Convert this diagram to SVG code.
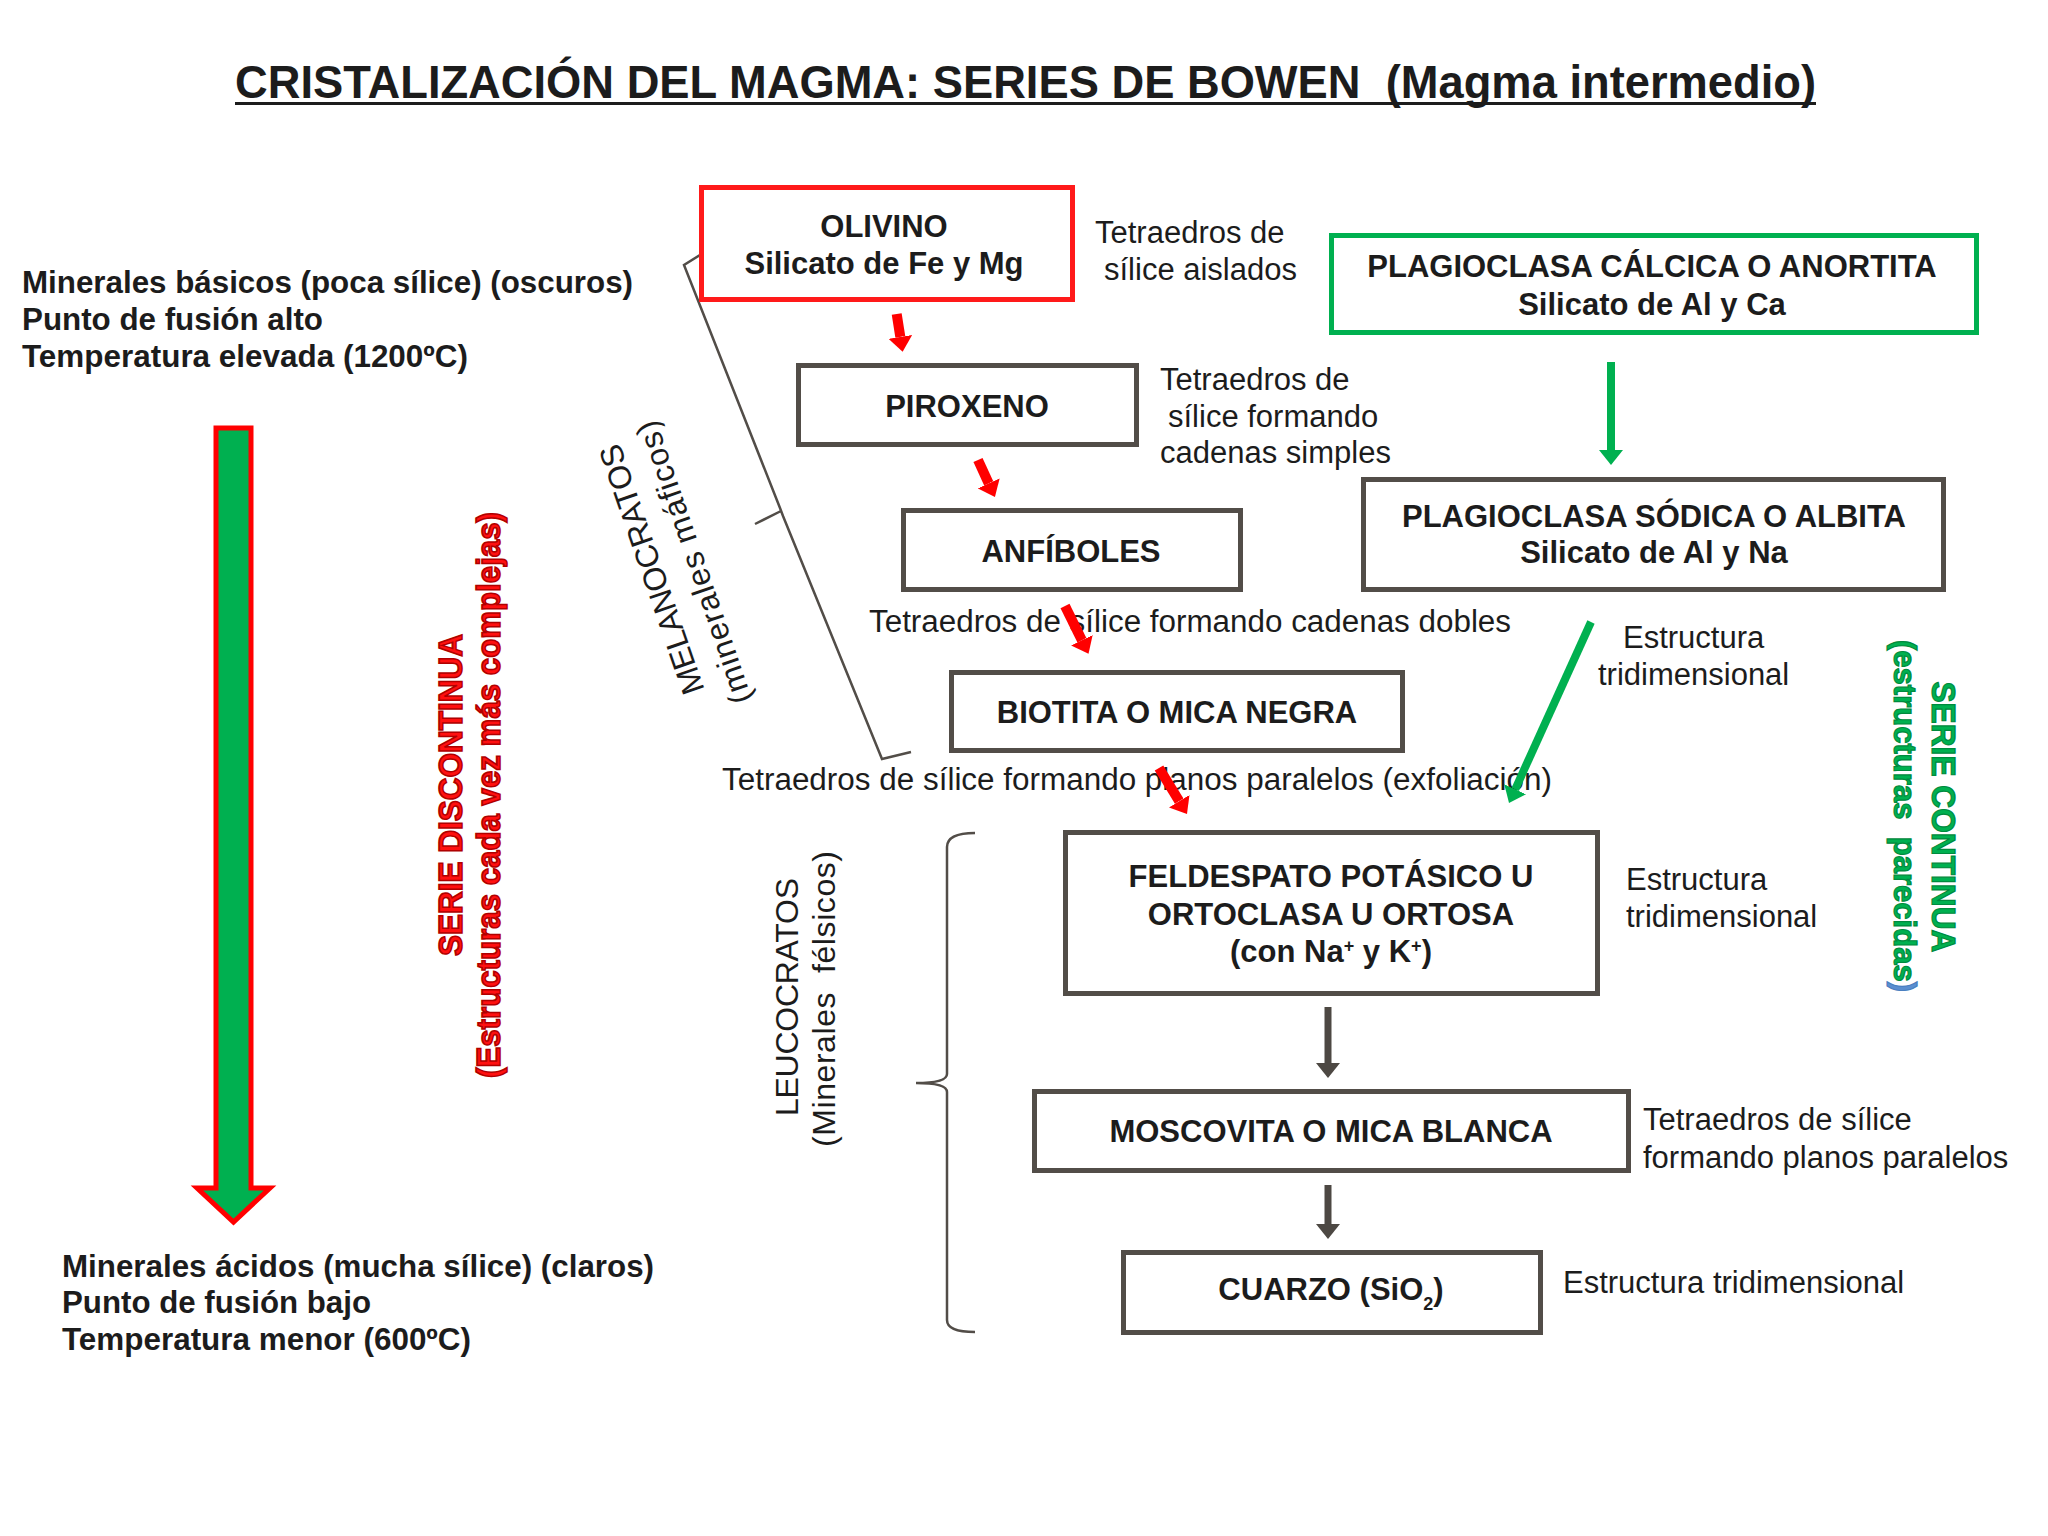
<svg xmlns="http://www.w3.org/2000/svg" width="2048" height="1536" viewBox="0 0 2048 1536">
  <style>
    .t { font-family: "Liberation Sans", Arial, sans-serif; fill: #1c1c1c; }
    .b { font-weight: bold; font-size: 31px; }
    .r { font-weight: normal; font-size: 31px; }
    .m { text-anchor: middle; }
    .box { fill: #ffffff; stroke: #524d48; stroke-width: 5; }
    .red { fill: #ff1010; stroke: #b00000; stroke-width: 1.6; font-weight: bold; font-family: "Liberation Sans", Arial, sans-serif; text-anchor: middle; }
    .grn { fill: #00b050; stroke: #008a3d; stroke-width: 1.2; font-weight: bold; font-family: "Liberation Sans", Arial, sans-serif; text-anchor: middle; }
    .brace { fill: none; stroke: #524d48; stroke-width: 2.5; stroke-linejoin: miter; }
  </style>
  <defs>
    <marker id="mRed" markerUnits="userSpaceOnUse" markerWidth="15" markerHeight="24" refX="0" refY="12" orient="auto">
      <path d="M0,0 L15,12 L0,24 z" fill="#ff0000"/>
    </marker>
    <marker id="mGreen" markerUnits="userSpaceOnUse" markerWidth="15" markerHeight="24" refX="0" refY="12" orient="auto">
      <path d="M0,0 L15,12 L0,24 z" fill="#00b050"/>
    </marker>
    <marker id="mGray" markerUnits="userSpaceOnUse" markerWidth="15" markerHeight="24" refX="0" refY="12" orient="auto">
      <path d="M0,0 L15,12 L0,24 z" fill="#4d4843"/>
    </marker>
  </defs>
  <rect x="0" y="0" width="2048" height="1536" fill="#ffffff"/>

  <!-- Title -->
  <g id="title">
    <text class="t" x="235" y="98" font-size="46" font-weight="bold" textLength="1581" lengthAdjust="spacingAndGlyphs">CRISTALIZACIÓN DEL MAGMA: SERIES DE BOWEN&#160; (Magma intermedio)</text>
    <line x1="235" y1="103.5" x2="1816" y2="103.5" stroke="#1c1c1c" stroke-width="3"/>
  </g>

  <!-- Left notes -->
  <g id="note-top">
    <text class="t b" x="22" y="293" textLength="611" lengthAdjust="spacingAndGlyphs">Minerales básicos (poca sílice) (oscuros)</text>
    <text class="t b" x="22" y="330" textLength="301" lengthAdjust="spacingAndGlyphs">Punto de fusión alto</text>
    <text class="t b" x="22" y="367" textLength="446" lengthAdjust="spacingAndGlyphs">Temperatura elevada (1200ºC)</text>
  </g>
  <g id="note-bottom">
    <text class="t b" x="62" y="1277" textLength="592" lengthAdjust="spacingAndGlyphs">Minerales ácidos (mucha sílice) (claros)</text>
    <text class="t b" x="62" y="1313" textLength="309" lengthAdjust="spacingAndGlyphs">Punto de fusión bajo</text>
    <text class="t b" x="62" y="1350" textLength="409" lengthAdjust="spacingAndGlyphs">Temperatura menor (600ºC)</text>
  </g>

  <!-- Big temperature arrow -->
  <g id="big-arrow">
    <polygon points="216,428 251,428 251,1188 270,1188 233.5,1222 197,1188 216,1188" fill="#00b050" stroke="#ff0000" stroke-width="5" stroke-linejoin="miter"/>
  </g>

  <!-- Serie discontinua label -->
  <g id="serie-discontinua">
    <text class="red" transform="translate(462,795) rotate(-90)" font-size="34" textLength="322" lengthAdjust="spacingAndGlyphs">SERIE DISCONTINUA</text>
    <text class="red" transform="translate(500,795) rotate(-90)" font-size="33" textLength="566" lengthAdjust="spacingAndGlyphs">(Estructuras cada vez más complejas)</text>
  </g>

  <!-- Melanocratos label -->
  <g id="melanocratos">
    <text class="t m" font-size="32" transform="translate(662,566) rotate(-109)" textLength="262" lengthAdjust="spacing">MELANOCRATOS</text>
    <text class="t m" font-size="32" transform="translate(704,559) rotate(-109)" textLength="297" lengthAdjust="spacing">(minerales máficos)</text>
  </g>

  <!-- Leucocratos label -->
  <g id="leucocratos">
    <text class="t m" font-size="32" transform="translate(798,997) rotate(-90)" textLength="238" lengthAdjust="spacing">LEUCOCRATOS</text>
    <text class="t m" font-size="32" transform="translate(835,999) rotate(-90)" textLength="296" lengthAdjust="spacing">(Minerales&#160; félsicos)</text>
  </g>

  <!-- Serie continua label -->
  <g id="serie-continua">
    <text class="grn" transform="translate(1932,817) rotate(90)" font-size="34" textLength="271" lengthAdjust="spacingAndGlyphs">SERIE CONTINUA</text>
    <text class="grn" transform="translate(1894,816) rotate(90)" font-size="32" textLength="352" lengthAdjust="spacingAndGlyphs">(estructuras&#160; parecidas<tspan fill="#5b8fd0" stroke="#4a7fc0">)</tspan></text>
  </g>

  <!-- Braces -->
  <g id="braces">
    <path class="brace" d="M708,250 L684,265 L780,508 L783,516 L882,759 L911,752 M781,511 L755,524"/>
    <path class="brace" d="M975,833 Q947,833 947,847 L947,1074 Q947,1083 916,1083 Q947,1083 947,1092 L947,1320 Q947,1332 975,1332"/>
  </g>

  <!-- Nodes -->
  <g id="olivino">
    <rect x="701.5" y="187.5" width="371" height="112" fill="#ffffff" stroke="#ff1a1a" stroke-width="5"/>
    <text class="t b m" x="884" y="237">OLIVINO</text>
    <text class="t b m" x="884" y="274">Silicato de Fe y Mg</text>
  </g>
  <g id="piroxeno">
    <rect class="box" x="798.5" y="365.5" width="338" height="79"/>
    <text class="t b m" x="967" y="417">PIROXENO</text>
  </g>
  <g id="anfiboles">
    <rect class="box" x="903.5" y="510.5" width="337" height="79"/>
    <text class="t b m" x="1071" y="562">ANFÍBOLES</text>
  </g>
  <g id="biotita">
    <rect class="box" x="951.5" y="672.5" width="451" height="78"/>
    <text class="t b m" x="1177" y="723">BIOTITA O MICA NEGRA</text>
  </g>
  <g id="anortita">
    <rect x="1331.5" y="235.5" width="645" height="97" fill="#ffffff" stroke="#00b050" stroke-width="5"/>
    <text class="t b m" x="1652" y="277">PLAGIOCLASA CÁLCICA O ANORTITA</text>
    <text class="t b m" x="1652" y="315">Silicato de Al y Ca</text>
  </g>
  <g id="albita">
    <rect class="box" x="1363.5" y="479.5" width="580" height="110"/>
    <text class="t b m" x="1654" y="527">PLAGIOCLASA SÓDICA O ALBITA</text>
    <text class="t b m" x="1654" y="563">Silicato de Al y Na</text>
  </g>
  <g id="feldespato">
    <rect class="box" x="1065.5" y="832.5" width="532" height="161"/>
    <text class="t b m" x="1331" y="887">FELDESPATO POTÁSICO U</text>
    <text class="t b m" x="1331" y="925">ORTOCLASA U ORTOSA</text>
    <text class="t b m" x="1331" y="962">(con Na<tspan baseline-shift="super" font-size="18">+</tspan> y K<tspan baseline-shift="super" font-size="18">+</tspan>)</text>
  </g>
  <g id="moscovita">
    <rect class="box" x="1034.5" y="1091.5" width="594" height="79"/>
    <text class="t b m" x="1331" y="1142">MOSCOVITA O MICA BLANCA</text>
  </g>
  <g id="cuarzo">
    <rect class="box" x="1123.5" y="1252.5" width="417" height="80"/>
    <text class="t b m" x="1331" y="1300">CUARZO (SiO<tspan baseline-shift="sub" font-size="18">2</tspan>)</text>
  </g>

  <!-- Structure labels -->
  <g id="labels">
    <text class="t r" x="1095" y="243">Tetraedros de</text>
    <text class="t r" x="1104" y="280">sílice aislados</text>
    <text class="t r" x="1160" y="390">Tetraedros de</text>
    <text class="t r" x="1168" y="427">sílice formando</text>
    <text class="t r" x="1160" y="463">cadenas simples</text>
    <text class="t r" x="869" y="632" textLength="642" lengthAdjust="spacingAndGlyphs">Tetraedros de sílice formando cadenas dobles</text>
    <text class="t r" x="722" y="790" textLength="830" lengthAdjust="spacingAndGlyphs">Tetraedros de sílice formando planos paralelos (exfoliación)</text>
    <text class="t r" x="1623" y="648">Estructura</text>
    <text class="t r" x="1598" y="685">tridimensional</text>
    <text class="t r" x="1626" y="890">Estructura</text>
    <text class="t r" x="1626" y="927">tridimensional</text>
    <text class="t r" x="1643" y="1130">Tetraedros de sílice</text>
    <text class="t r" x="1643" y="1168">formando planos paralelos</text>
    <text class="t r" x="1563" y="1293">Estructura tridimensional</text>
  </g>

  <!-- Connectors -->
  <g id="connectors" fill="none">
    <line x1="896.7" y1="314" x2="900.3" y2="336.9" stroke="#ff0000" stroke-width="10" marker-end="url(#mRed)"/>
    <line x1="978" y1="460" x2="988.7" y2="483.4" stroke="#ff0000" stroke-width="10" marker-end="url(#mRed)"/>
    <line x1="1065" y1="606" x2="1081.9" y2="640.3" stroke="#ff0000" stroke-width="10" marker-end="url(#mRed)"/>
    <line x1="1159" y1="768" x2="1179.2" y2="801.2" stroke="#ff0000" stroke-width="10" marker-end="url(#mRed)"/>
    <line x1="1611" y1="362" x2="1611" y2="450" stroke="#00b050" stroke-width="8" marker-end="url(#mGreen)"/>
    <line x1="1591" y1="622" x2="1515.2" y2="789.3" stroke="#00b050" stroke-width="8" marker-end="url(#mGreen)"/>
    <line x1="1328" y1="1007" x2="1328" y2="1063" stroke="#4d4843" stroke-width="7" marker-end="url(#mGray)"/>
    <line x1="1328" y1="1185" x2="1328" y2="1224" stroke="#4d4843" stroke-width="7" marker-end="url(#mGray)"/>
  </g>
</svg>
